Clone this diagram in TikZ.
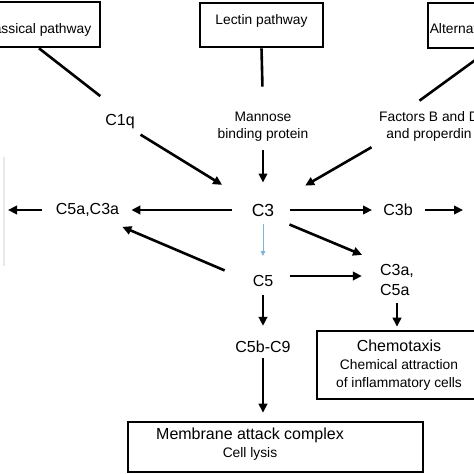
\documentclass[tikz,border=0pt]{standalone}
\usepackage{fontspec}
\setmainfont{Liberation Sans}
\usetikzlibrary{arrows.meta, positioning, calc}
\definecolor{cblue}{HTML}{7DB4D8}
\definecolor{cgrey}{HTML}{E8E8E8}
\newcommand{\smalltext}{\fontsize{13.8}{18}\selectfont}
\tikzset{
  every picture/.style={line width=2.6pt},
  box/.style={draw, rectangle, inner sep=0pt},
  arrow/.style={-{Triangle[length=9pt, width=8.5pt]}, draw=black, line width=2.6pt},
  link/.style={draw=black, line width=2.6pt},
  thinarrow/.style={-{Triangle[length=5pt, width=4.5pt]}, draw=cblue, line width=0.9pt},
  comp/.style={font=\fontsize{16}{20}\selectfont, inner sep=2pt, align=left},
  note/.style={font=\fontsize{13.8}{17}\selectfont, inner sep=2pt, align=center},
  title/.style={font=\fontsize{16}{18}\selectfont, align=center},
}

\begin{document}
\begin{tikzpicture}[x=1pt, y=-1pt]
  \useasboundingbox (0,0) rectangle (474,474);
  \clip (0,0) rectangle (474,474);
  % pathways
  \node[box, minimum width=128, minimum height=45] (classical) at (36,24.5) {};
  \node[note] (classicaltxt) at (36,30) {Classical pathway};
  \node[box, minimum width=123, minimum height=44] (lectin) at (261.5,25) {};
  \node[note] (lectintxt) at (261.5,21) {Lectin pathway};
  \node[box, minimum width=124, minimum height=45] (alternative) at (490,25.5) {};
  \node[note] (alternativetxt) at (490,30) {Alternative pathway};
  % activators
  \node[comp] (cq) at (120,122) {C1q};
  \node[note] (mbp) at (263,126.5) {Mannose\\binding protein};
  \node[note] (factors) at (429,126.5) {Factors B and D\\and properdin};
  % cascade
  \node[comp, font=\fontsize{17.5}{20}\selectfont] (c3) at (263,210) {C3};
  \node[comp] (c5ac3a) at (87.5,210) {C5a,C3a};
  \node[comp] (c3b) at (398,210) {C3b};
  \node[comp] (c5) at (263,281) {C5};
  \node[comp] (c3ac5a) at (397,280) {C3a,\\C5a};
  \node[comp] (c5b) at (263,347) {C5b-C9};
  \coordinate (lout) at (8,210);
  \coordinate (rout) at (463,210);
  % outcomes
  \node[box, title, minimum width=164, minimum height=68] (chemo) at (399,365)
    {Chemotaxis\\\smalltext Chemical attraction\\\smalltext of inflammatory cells};
  \node[box, minimum width=295, minimum height=50] (mac) at (275.5,447) {};
  \node[title] (mactxt) at (250,444)
    {Membrane attack complex\\\smalltext Cell lysis};
  \draw[cgrey, line width=1.2pt] (4,157) -- (4,266);

  \draw[link, shorten >=25pt] ([xshift=3pt]classical.south) -- (cq.north);
  \draw[link, shorten >=22pt] (lectin.south) -- (mbp.north);
  \draw[link, shorten >=13pt] (alternative.south) -- ([xshift=-20pt]factors.north);

  \draw[arrow, shorten <=4pt, shorten >=31pt] (cq) -- (c3);
  \draw[arrow, shorten <=6pt, shorten >=18pt] (mbp) -- (c3);
  \draw[arrow, shorten <=5pt, shorten >=32pt] (factors.south west) -- (c3);
  \draw[arrow, shorten <=17pt, shorten >=9pt] (c3) -- (c5ac3a);
  \draw[arrow, shorten <=11pt] (c5ac3a) -- (lout);
  \draw[arrow, shorten <=13pt, shorten >=8pt] (c3) -- (c3b);
  \draw[arrow, shorten <=9pt] (c3b) -- (rout);
  \draw[thinarrow, shorten <=5pt, shorten >=16pt] (c3) -- (c5);
  \draw[arrow, shorten <=13pt, shorten >=16pt] (c3.south east) -- (c3ac5a.north west);
  \draw[arrow, shorten <=27pt] (c5.west) -- ([yshift=-7pt]c5ac3a.south east);
  \draw[arrow, shorten <=13pt, shorten >=15pt] ([yshift=5pt]c5.east) -- ([yshift=5pt]c5.east -| c3ac5a.west);
  \draw[arrow, shorten <=5pt, shorten >=12pt] (c5) -- (c5b);
  \draw[arrow, shorten <=4pt, shorten >=3pt] (c3ac5a) -- (c3ac5a |- chemo.north);
  \draw[arrow, shorten <=2pt, shorten >=8pt] (c5b) -- (c5b |- mac.north);
\end{tikzpicture}
\end{document}
